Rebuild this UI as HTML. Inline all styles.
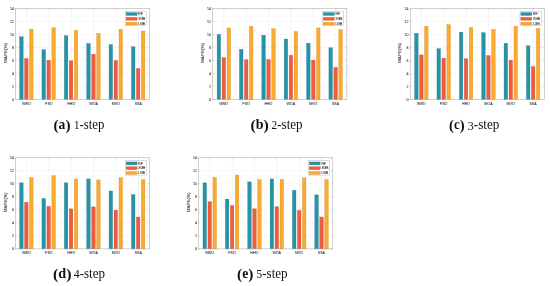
<!DOCTYPE html>
<html><head><meta charset="utf-8"><title>MAPE bar charts</title>
<style>
html,body{margin:0;padding:0;background:#fff;}
body{width:550px;height:286px;overflow:hidden;}
svg{display:block;}
.t{font-family:"Liberation Sans",sans-serif;font-size:3.6px;fill:#333;stroke:#333;stroke-width:0.06px;}
.lg{font-family:"Liberation Sans",sans-serif;font-size:3.3px;fill:#222;stroke:#222;stroke-width:0.06px;}
.cap{font-family:"Liberation Serif",serif;font-size:13.6px;fill:#111;}
.b{font-weight:bold;}
</style></head><body>
<svg width="550" height="286" viewBox="0 0 550 286">
<rect width="550" height="286" fill="#fff"/>

<g id="chart-a">
<line x1="26.68" y1="8.40" x2="26.68" y2="99.50" stroke="#e9e9e9" stroke-width="0.4"/>
<line x1="49.05" y1="8.40" x2="49.05" y2="99.50" stroke="#e9e9e9" stroke-width="0.4"/>
<line x1="71.42" y1="8.40" x2="71.42" y2="99.50" stroke="#e9e9e9" stroke-width="0.4"/>
<line x1="93.78" y1="8.40" x2="93.78" y2="99.50" stroke="#e9e9e9" stroke-width="0.4"/>
<line x1="116.15" y1="8.40" x2="116.15" y2="99.50" stroke="#e9e9e9" stroke-width="0.4"/>
<line x1="138.52" y1="8.40" x2="138.52" y2="99.50" stroke="#e9e9e9" stroke-width="0.4"/>
<line x1="15.50" y1="86.49" x2="149.70" y2="86.49" stroke="#e9e9e9" stroke-width="0.4"/>
<line x1="15.50" y1="73.47" x2="149.70" y2="73.47" stroke="#e9e9e9" stroke-width="0.4"/>
<line x1="15.50" y1="60.46" x2="149.70" y2="60.46" stroke="#e9e9e9" stroke-width="0.4"/>
<line x1="15.50" y1="47.44" x2="149.70" y2="47.44" stroke="#e9e9e9" stroke-width="0.4"/>
<line x1="15.50" y1="34.43" x2="149.70" y2="34.43" stroke="#e9e9e9" stroke-width="0.4"/>
<line x1="15.50" y1="21.41" x2="149.70" y2="21.41" stroke="#e9e9e9" stroke-width="0.4"/>
<rect x="19.59" y="36.71" width="3.55" height="62.79" fill="#2594a6" stroke="#1f7483" stroke-width="0.3"/>
<rect x="24.56" y="58.51" width="3.55" height="40.99" fill="#f05c3c" stroke="#bd4a32" stroke-width="0.3"/>
<rect x="29.53" y="29.22" width="3.55" height="70.28" fill="#fbaa2e" stroke="#cc8823" stroke-width="0.3"/>
<rect x="41.95" y="49.72" width="3.55" height="49.78" fill="#2594a6" stroke="#1f7483" stroke-width="0.3"/>
<rect x="46.92" y="60.33" width="3.55" height="39.17" fill="#f05c3c" stroke="#bd4a32" stroke-width="0.3"/>
<rect x="51.90" y="27.79" width="3.55" height="71.71" fill="#fbaa2e" stroke="#cc8823" stroke-width="0.3"/>
<rect x="64.32" y="35.73" width="3.55" height="63.77" fill="#2594a6" stroke="#1f7483" stroke-width="0.3"/>
<rect x="69.29" y="60.78" width="3.55" height="38.72" fill="#f05c3c" stroke="#bd4a32" stroke-width="0.3"/>
<rect x="74.26" y="30.20" width="3.55" height="69.30" fill="#fbaa2e" stroke="#cc8823" stroke-width="0.3"/>
<rect x="86.69" y="43.54" width="3.55" height="55.96" fill="#2594a6" stroke="#1f7483" stroke-width="0.3"/>
<rect x="91.66" y="54.28" width="3.55" height="45.22" fill="#f05c3c" stroke="#bd4a32" stroke-width="0.3"/>
<rect x="96.63" y="33.45" width="3.55" height="66.05" fill="#fbaa2e" stroke="#cc8823" stroke-width="0.3"/>
<rect x="109.05" y="44.51" width="3.55" height="54.99" fill="#2594a6" stroke="#1f7483" stroke-width="0.3"/>
<rect x="114.02" y="60.46" width="3.55" height="39.04" fill="#f05c3c" stroke="#bd4a32" stroke-width="0.3"/>
<rect x="119.00" y="29.22" width="3.55" height="70.28" fill="#fbaa2e" stroke="#cc8823" stroke-width="0.3"/>
<rect x="131.42" y="46.79" width="3.55" height="52.71" fill="#2594a6" stroke="#1f7483" stroke-width="0.3"/>
<rect x="136.39" y="68.59" width="3.55" height="30.91" fill="#f05c3c" stroke="#bd4a32" stroke-width="0.3"/>
<rect x="141.36" y="31.04" width="3.55" height="68.46" fill="#fbaa2e" stroke="#cc8823" stroke-width="0.3"/>
<rect x="15.50" y="8.40" width="134.20" height="91.10" fill="none" stroke="#a0a0a0" stroke-width="0.5"/>
<line x1="26.68" y1="99.50" x2="26.68" y2="98.30" stroke="#a0a0a0" stroke-width="0.4"/>
<line x1="26.68" y1="8.40" x2="26.68" y2="9.60" stroke="#a0a0a0" stroke-width="0.4"/>
<text class="t" x="26.48" y="104.70" text-anchor="middle">GWO</text>
<line x1="49.05" y1="99.50" x2="49.05" y2="98.30" stroke="#a0a0a0" stroke-width="0.4"/>
<line x1="49.05" y1="8.40" x2="49.05" y2="9.60" stroke="#a0a0a0" stroke-width="0.4"/>
<text class="t" x="48.85" y="104.70" text-anchor="middle">PSO</text>
<line x1="71.42" y1="99.50" x2="71.42" y2="98.30" stroke="#a0a0a0" stroke-width="0.4"/>
<line x1="71.42" y1="8.40" x2="71.42" y2="9.60" stroke="#a0a0a0" stroke-width="0.4"/>
<text class="t" x="71.22" y="104.70" text-anchor="middle">HHO</text>
<line x1="93.78" y1="99.50" x2="93.78" y2="98.30" stroke="#a0a0a0" stroke-width="0.4"/>
<line x1="93.78" y1="8.40" x2="93.78" y2="9.60" stroke="#a0a0a0" stroke-width="0.4"/>
<text class="t" x="93.58" y="104.70" text-anchor="middle">WOA</text>
<line x1="116.15" y1="99.50" x2="116.15" y2="98.30" stroke="#a0a0a0" stroke-width="0.4"/>
<line x1="116.15" y1="8.40" x2="116.15" y2="9.60" stroke="#a0a0a0" stroke-width="0.4"/>
<text class="t" x="115.95" y="104.70" text-anchor="middle">MVO</text>
<line x1="138.52" y1="99.50" x2="138.52" y2="98.30" stroke="#a0a0a0" stroke-width="0.4"/>
<line x1="138.52" y1="8.40" x2="138.52" y2="9.60" stroke="#a0a0a0" stroke-width="0.4"/>
<text class="t" x="138.32" y="104.70" text-anchor="middle">SSA</text>
<line x1="15.50" y1="99.50" x2="16.70" y2="99.50" stroke="#a0a0a0" stroke-width="0.4"/>
<line x1="149.70" y1="99.50" x2="148.50" y2="99.50" stroke="#a0a0a0" stroke-width="0.4"/>
<text class="t" x="13.90" y="100.80" text-anchor="end">0</text>
<line x1="15.50" y1="86.49" x2="16.70" y2="86.49" stroke="#a0a0a0" stroke-width="0.4"/>
<line x1="149.70" y1="86.49" x2="148.50" y2="86.49" stroke="#a0a0a0" stroke-width="0.4"/>
<text class="t" x="13.90" y="87.79" text-anchor="end">2</text>
<line x1="15.50" y1="73.47" x2="16.70" y2="73.47" stroke="#a0a0a0" stroke-width="0.4"/>
<line x1="149.70" y1="73.47" x2="148.50" y2="73.47" stroke="#a0a0a0" stroke-width="0.4"/>
<text class="t" x="13.90" y="74.77" text-anchor="end">4</text>
<line x1="15.50" y1="60.46" x2="16.70" y2="60.46" stroke="#a0a0a0" stroke-width="0.4"/>
<line x1="149.70" y1="60.46" x2="148.50" y2="60.46" stroke="#a0a0a0" stroke-width="0.4"/>
<text class="t" x="13.90" y="61.76" text-anchor="end">6</text>
<line x1="15.50" y1="47.44" x2="16.70" y2="47.44" stroke="#a0a0a0" stroke-width="0.4"/>
<line x1="149.70" y1="47.44" x2="148.50" y2="47.44" stroke="#a0a0a0" stroke-width="0.4"/>
<text class="t" x="13.90" y="48.74" text-anchor="end">8</text>
<line x1="15.50" y1="34.43" x2="16.70" y2="34.43" stroke="#a0a0a0" stroke-width="0.4"/>
<line x1="149.70" y1="34.43" x2="148.50" y2="34.43" stroke="#a0a0a0" stroke-width="0.4"/>
<text class="t" x="13.90" y="35.73" text-anchor="end">10</text>
<line x1="15.50" y1="21.41" x2="16.70" y2="21.41" stroke="#a0a0a0" stroke-width="0.4"/>
<line x1="149.70" y1="21.41" x2="148.50" y2="21.41" stroke="#a0a0a0" stroke-width="0.4"/>
<text class="t" x="13.90" y="22.71" text-anchor="end">12</text>
<line x1="15.50" y1="8.40" x2="16.70" y2="8.40" stroke="#a0a0a0" stroke-width="0.4"/>
<line x1="149.70" y1="8.40" x2="148.50" y2="8.40" stroke="#a0a0a0" stroke-width="0.4"/>
<text class="t" x="13.90" y="9.70" text-anchor="end">14</text>
<text class="t" transform="translate(6.65,52.95) rotate(-90)" text-anchor="middle" textLength="20" lengthAdjust="spacingAndGlyphs">MAPE(%)</text>
<rect x="125.30" y="11.15" width="21.2" height="14.5" fill="#fff" stroke="#a5a5a5" stroke-width="0.4"/>
<rect x="126.20" y="12.55" width="10.9" height="2.9" fill="#2594a6" stroke="#1f7483" stroke-width="0.3"/>
<text class="lg" x="138.30" y="15.20">RF</text>
<rect x="126.20" y="17.35" width="10.9" height="2.9" fill="#f05c3c" stroke="#bd4a32" stroke-width="0.3"/>
<text class="lg" x="138.30" y="20.00">XGB</text>
<rect x="126.20" y="22.15" width="10.9" height="2.9" fill="#fbaa2e" stroke="#cc8823" stroke-width="0.3"/>
<text class="lg" x="138.30" y="24.80">LGB</text>
<text class="cap b" x="53.50" y="129.40" textLength="17.00" lengthAdjust="spacingAndGlyphs"><tspan font-size="15.4" dy="1">(</tspan><tspan dy="-1">a</tspan><tspan font-size="15.4" dy="1">)</tspan></text>
<text class="cap" x="74.00" y="129.40" textLength="30.40" lengthAdjust="spacingAndGlyphs"><tspan font-size="11.7" dy="0">1</tspan><tspan dy="0">-step</tspan></text>
</g>
<g id="chart-b">
<line x1="223.88" y1="8.40" x2="223.88" y2="99.50" stroke="#e9e9e9" stroke-width="0.4"/>
<line x1="246.25" y1="8.40" x2="246.25" y2="99.50" stroke="#e9e9e9" stroke-width="0.4"/>
<line x1="268.62" y1="8.40" x2="268.62" y2="99.50" stroke="#e9e9e9" stroke-width="0.4"/>
<line x1="290.98" y1="8.40" x2="290.98" y2="99.50" stroke="#e9e9e9" stroke-width="0.4"/>
<line x1="313.35" y1="8.40" x2="313.35" y2="99.50" stroke="#e9e9e9" stroke-width="0.4"/>
<line x1="335.72" y1="8.40" x2="335.72" y2="99.50" stroke="#e9e9e9" stroke-width="0.4"/>
<line x1="212.70" y1="86.49" x2="346.90" y2="86.49" stroke="#e9e9e9" stroke-width="0.4"/>
<line x1="212.70" y1="73.47" x2="346.90" y2="73.47" stroke="#e9e9e9" stroke-width="0.4"/>
<line x1="212.70" y1="60.46" x2="346.90" y2="60.46" stroke="#e9e9e9" stroke-width="0.4"/>
<line x1="212.70" y1="47.44" x2="346.90" y2="47.44" stroke="#e9e9e9" stroke-width="0.4"/>
<line x1="212.70" y1="34.43" x2="346.90" y2="34.43" stroke="#e9e9e9" stroke-width="0.4"/>
<line x1="212.70" y1="21.41" x2="346.90" y2="21.41" stroke="#e9e9e9" stroke-width="0.4"/>
<rect x="217.09" y="34.43" width="3.55" height="65.07" fill="#2594a6" stroke="#1f7483" stroke-width="0.3"/>
<rect x="222.06" y="57.53" width="3.55" height="41.97" fill="#f05c3c" stroke="#bd4a32" stroke-width="0.3"/>
<rect x="227.03" y="27.92" width="3.55" height="71.58" fill="#fbaa2e" stroke="#cc8823" stroke-width="0.3"/>
<rect x="239.45" y="49.39" width="3.55" height="50.11" fill="#2594a6" stroke="#1f7483" stroke-width="0.3"/>
<rect x="244.42" y="59.81" width="3.55" height="39.69" fill="#f05c3c" stroke="#bd4a32" stroke-width="0.3"/>
<rect x="249.40" y="26.29" width="3.55" height="73.21" fill="#fbaa2e" stroke="#cc8823" stroke-width="0.3"/>
<rect x="261.82" y="35.27" width="3.55" height="64.23" fill="#2594a6" stroke="#1f7483" stroke-width="0.3"/>
<rect x="266.79" y="59.48" width="3.55" height="40.02" fill="#f05c3c" stroke="#bd4a32" stroke-width="0.3"/>
<rect x="271.76" y="28.77" width="3.55" height="70.73" fill="#fbaa2e" stroke="#cc8823" stroke-width="0.3"/>
<rect x="284.19" y="38.98" width="3.55" height="60.52" fill="#2594a6" stroke="#1f7483" stroke-width="0.3"/>
<rect x="289.16" y="55.25" width="3.55" height="44.25" fill="#f05c3c" stroke="#bd4a32" stroke-width="0.3"/>
<rect x="294.13" y="31.50" width="3.55" height="68.00" fill="#fbaa2e" stroke="#cc8823" stroke-width="0.3"/>
<rect x="306.55" y="43.21" width="3.55" height="56.29" fill="#2594a6" stroke="#1f7483" stroke-width="0.3"/>
<rect x="311.52" y="60.13" width="3.55" height="39.37" fill="#f05c3c" stroke="#bd4a32" stroke-width="0.3"/>
<rect x="316.50" y="27.92" width="3.55" height="71.58" fill="#fbaa2e" stroke="#cc8823" stroke-width="0.3"/>
<rect x="328.92" y="47.77" width="3.55" height="51.73" fill="#2594a6" stroke="#1f7483" stroke-width="0.3"/>
<rect x="333.89" y="67.29" width="3.55" height="32.21" fill="#f05c3c" stroke="#bd4a32" stroke-width="0.3"/>
<rect x="338.86" y="29.55" width="3.55" height="69.95" fill="#fbaa2e" stroke="#cc8823" stroke-width="0.3"/>
<rect x="212.70" y="8.40" width="134.20" height="91.10" fill="none" stroke="#a0a0a0" stroke-width="0.5"/>
<line x1="223.88" y1="99.50" x2="223.88" y2="98.30" stroke="#a0a0a0" stroke-width="0.4"/>
<line x1="223.88" y1="8.40" x2="223.88" y2="9.60" stroke="#a0a0a0" stroke-width="0.4"/>
<text class="t" x="223.68" y="104.70" text-anchor="middle">GWO</text>
<line x1="246.25" y1="99.50" x2="246.25" y2="98.30" stroke="#a0a0a0" stroke-width="0.4"/>
<line x1="246.25" y1="8.40" x2="246.25" y2="9.60" stroke="#a0a0a0" stroke-width="0.4"/>
<text class="t" x="246.05" y="104.70" text-anchor="middle">PSO</text>
<line x1="268.62" y1="99.50" x2="268.62" y2="98.30" stroke="#a0a0a0" stroke-width="0.4"/>
<line x1="268.62" y1="8.40" x2="268.62" y2="9.60" stroke="#a0a0a0" stroke-width="0.4"/>
<text class="t" x="268.42" y="104.70" text-anchor="middle">HHO</text>
<line x1="290.98" y1="99.50" x2="290.98" y2="98.30" stroke="#a0a0a0" stroke-width="0.4"/>
<line x1="290.98" y1="8.40" x2="290.98" y2="9.60" stroke="#a0a0a0" stroke-width="0.4"/>
<text class="t" x="290.78" y="104.70" text-anchor="middle">WOA</text>
<line x1="313.35" y1="99.50" x2="313.35" y2="98.30" stroke="#a0a0a0" stroke-width="0.4"/>
<line x1="313.35" y1="8.40" x2="313.35" y2="9.60" stroke="#a0a0a0" stroke-width="0.4"/>
<text class="t" x="313.15" y="104.70" text-anchor="middle">MVO</text>
<line x1="335.72" y1="99.50" x2="335.72" y2="98.30" stroke="#a0a0a0" stroke-width="0.4"/>
<line x1="335.72" y1="8.40" x2="335.72" y2="9.60" stroke="#a0a0a0" stroke-width="0.4"/>
<text class="t" x="335.52" y="104.70" text-anchor="middle">SSA</text>
<line x1="212.70" y1="99.50" x2="213.90" y2="99.50" stroke="#a0a0a0" stroke-width="0.4"/>
<line x1="346.90" y1="99.50" x2="345.70" y2="99.50" stroke="#a0a0a0" stroke-width="0.4"/>
<text class="t" x="211.10" y="100.80" text-anchor="end">0</text>
<line x1="212.70" y1="86.49" x2="213.90" y2="86.49" stroke="#a0a0a0" stroke-width="0.4"/>
<line x1="346.90" y1="86.49" x2="345.70" y2="86.49" stroke="#a0a0a0" stroke-width="0.4"/>
<text class="t" x="211.10" y="87.79" text-anchor="end">2</text>
<line x1="212.70" y1="73.47" x2="213.90" y2="73.47" stroke="#a0a0a0" stroke-width="0.4"/>
<line x1="346.90" y1="73.47" x2="345.70" y2="73.47" stroke="#a0a0a0" stroke-width="0.4"/>
<text class="t" x="211.10" y="74.77" text-anchor="end">4</text>
<line x1="212.70" y1="60.46" x2="213.90" y2="60.46" stroke="#a0a0a0" stroke-width="0.4"/>
<line x1="346.90" y1="60.46" x2="345.70" y2="60.46" stroke="#a0a0a0" stroke-width="0.4"/>
<text class="t" x="211.10" y="61.76" text-anchor="end">6</text>
<line x1="212.70" y1="47.44" x2="213.90" y2="47.44" stroke="#a0a0a0" stroke-width="0.4"/>
<line x1="346.90" y1="47.44" x2="345.70" y2="47.44" stroke="#a0a0a0" stroke-width="0.4"/>
<text class="t" x="211.10" y="48.74" text-anchor="end">8</text>
<line x1="212.70" y1="34.43" x2="213.90" y2="34.43" stroke="#a0a0a0" stroke-width="0.4"/>
<line x1="346.90" y1="34.43" x2="345.70" y2="34.43" stroke="#a0a0a0" stroke-width="0.4"/>
<text class="t" x="211.10" y="35.73" text-anchor="end">10</text>
<line x1="212.70" y1="21.41" x2="213.90" y2="21.41" stroke="#a0a0a0" stroke-width="0.4"/>
<line x1="346.90" y1="21.41" x2="345.70" y2="21.41" stroke="#a0a0a0" stroke-width="0.4"/>
<text class="t" x="211.10" y="22.71" text-anchor="end">12</text>
<line x1="212.70" y1="8.40" x2="213.90" y2="8.40" stroke="#a0a0a0" stroke-width="0.4"/>
<line x1="346.90" y1="8.40" x2="345.70" y2="8.40" stroke="#a0a0a0" stroke-width="0.4"/>
<text class="t" x="211.10" y="9.70" text-anchor="end">14</text>
<text class="t" transform="translate(203.85,52.95) rotate(-90)" text-anchor="middle" textLength="20" lengthAdjust="spacingAndGlyphs">MAPE(%)</text>
<rect x="322.50" y="11.15" width="21.2" height="14.5" fill="#fff" stroke="#a5a5a5" stroke-width="0.4"/>
<rect x="323.40" y="12.55" width="10.9" height="2.9" fill="#2594a6" stroke="#1f7483" stroke-width="0.3"/>
<text class="lg" x="335.50" y="15.20">RF</text>
<rect x="323.40" y="17.35" width="10.9" height="2.9" fill="#f05c3c" stroke="#bd4a32" stroke-width="0.3"/>
<text class="lg" x="335.50" y="20.00">XGB</text>
<rect x="323.40" y="22.15" width="10.9" height="2.9" fill="#fbaa2e" stroke="#cc8823" stroke-width="0.3"/>
<text class="lg" x="335.50" y="24.80">LGB</text>
<text class="cap b" x="250.40" y="129.40" textLength="18.30" lengthAdjust="spacingAndGlyphs"><tspan font-size="15.4" dy="1">(</tspan><tspan dy="-1">b</tspan><tspan font-size="15.4" dy="1">)</tspan></text>
<text class="cap" x="271.60" y="129.40" textLength="31.00" lengthAdjust="spacingAndGlyphs"><tspan font-size="11.7" dy="0">2</tspan><tspan dy="0">-step</tspan></text>
</g>
<g id="chart-c">
<line x1="421.38" y1="8.40" x2="421.38" y2="99.50" stroke="#e9e9e9" stroke-width="0.4"/>
<line x1="443.75" y1="8.40" x2="443.75" y2="99.50" stroke="#e9e9e9" stroke-width="0.4"/>
<line x1="466.12" y1="8.40" x2="466.12" y2="99.50" stroke="#e9e9e9" stroke-width="0.4"/>
<line x1="488.48" y1="8.40" x2="488.48" y2="99.50" stroke="#e9e9e9" stroke-width="0.4"/>
<line x1="510.85" y1="8.40" x2="510.85" y2="99.50" stroke="#e9e9e9" stroke-width="0.4"/>
<line x1="533.22" y1="8.40" x2="533.22" y2="99.50" stroke="#e9e9e9" stroke-width="0.4"/>
<line x1="410.20" y1="86.49" x2="544.40" y2="86.49" stroke="#e9e9e9" stroke-width="0.4"/>
<line x1="410.20" y1="73.47" x2="544.40" y2="73.47" stroke="#e9e9e9" stroke-width="0.4"/>
<line x1="410.20" y1="60.46" x2="544.40" y2="60.46" stroke="#e9e9e9" stroke-width="0.4"/>
<line x1="410.20" y1="47.44" x2="544.40" y2="47.44" stroke="#e9e9e9" stroke-width="0.4"/>
<line x1="410.20" y1="34.43" x2="544.40" y2="34.43" stroke="#e9e9e9" stroke-width="0.4"/>
<line x1="410.20" y1="21.41" x2="544.40" y2="21.41" stroke="#e9e9e9" stroke-width="0.4"/>
<rect x="414.59" y="33.32" width="3.55" height="66.18" fill="#2594a6" stroke="#1f7483" stroke-width="0.3"/>
<rect x="419.56" y="54.93" width="3.55" height="44.57" fill="#f05c3c" stroke="#bd4a32" stroke-width="0.3"/>
<rect x="424.53" y="26.29" width="3.55" height="73.21" fill="#fbaa2e" stroke="#cc8823" stroke-width="0.3"/>
<rect x="436.95" y="48.74" width="3.55" height="50.76" fill="#2594a6" stroke="#1f7483" stroke-width="0.3"/>
<rect x="441.93" y="58.18" width="3.55" height="41.32" fill="#f05c3c" stroke="#bd4a32" stroke-width="0.3"/>
<rect x="446.90" y="24.67" width="3.55" height="74.83" fill="#fbaa2e" stroke="#cc8823" stroke-width="0.3"/>
<rect x="459.32" y="32.15" width="3.55" height="67.35" fill="#2594a6" stroke="#1f7483" stroke-width="0.3"/>
<rect x="464.29" y="58.83" width="3.55" height="40.67" fill="#f05c3c" stroke="#bd4a32" stroke-width="0.3"/>
<rect x="469.26" y="27.60" width="3.55" height="71.90" fill="#fbaa2e" stroke="#cc8823" stroke-width="0.3"/>
<rect x="481.69" y="32.67" width="3.55" height="66.83" fill="#2594a6" stroke="#1f7483" stroke-width="0.3"/>
<rect x="486.66" y="55.58" width="3.55" height="43.92" fill="#f05c3c" stroke="#bd4a32" stroke-width="0.3"/>
<rect x="491.63" y="29.55" width="3.55" height="69.95" fill="#fbaa2e" stroke="#cc8823" stroke-width="0.3"/>
<rect x="504.05" y="43.21" width="3.55" height="56.29" fill="#2594a6" stroke="#1f7483" stroke-width="0.3"/>
<rect x="509.02" y="60.13" width="3.55" height="39.37" fill="#f05c3c" stroke="#bd4a32" stroke-width="0.3"/>
<rect x="514.00" y="26.29" width="3.55" height="73.21" fill="#fbaa2e" stroke="#cc8823" stroke-width="0.3"/>
<rect x="526.42" y="45.82" width="3.55" height="53.68" fill="#2594a6" stroke="#1f7483" stroke-width="0.3"/>
<rect x="531.39" y="66.64" width="3.55" height="32.86" fill="#f05c3c" stroke="#bd4a32" stroke-width="0.3"/>
<rect x="536.36" y="28.57" width="3.55" height="70.93" fill="#fbaa2e" stroke="#cc8823" stroke-width="0.3"/>
<rect x="410.20" y="8.40" width="134.20" height="91.10" fill="none" stroke="#a0a0a0" stroke-width="0.5"/>
<line x1="421.38" y1="99.50" x2="421.38" y2="98.30" stroke="#a0a0a0" stroke-width="0.4"/>
<line x1="421.38" y1="8.40" x2="421.38" y2="9.60" stroke="#a0a0a0" stroke-width="0.4"/>
<text class="t" x="421.18" y="104.70" text-anchor="middle">GWO</text>
<line x1="443.75" y1="99.50" x2="443.75" y2="98.30" stroke="#a0a0a0" stroke-width="0.4"/>
<line x1="443.75" y1="8.40" x2="443.75" y2="9.60" stroke="#a0a0a0" stroke-width="0.4"/>
<text class="t" x="443.55" y="104.70" text-anchor="middle">PSO</text>
<line x1="466.12" y1="99.50" x2="466.12" y2="98.30" stroke="#a0a0a0" stroke-width="0.4"/>
<line x1="466.12" y1="8.40" x2="466.12" y2="9.60" stroke="#a0a0a0" stroke-width="0.4"/>
<text class="t" x="465.92" y="104.70" text-anchor="middle">HHO</text>
<line x1="488.48" y1="99.50" x2="488.48" y2="98.30" stroke="#a0a0a0" stroke-width="0.4"/>
<line x1="488.48" y1="8.40" x2="488.48" y2="9.60" stroke="#a0a0a0" stroke-width="0.4"/>
<text class="t" x="488.28" y="104.70" text-anchor="middle">WOA</text>
<line x1="510.85" y1="99.50" x2="510.85" y2="98.30" stroke="#a0a0a0" stroke-width="0.4"/>
<line x1="510.85" y1="8.40" x2="510.85" y2="9.60" stroke="#a0a0a0" stroke-width="0.4"/>
<text class="t" x="510.65" y="104.70" text-anchor="middle">MVO</text>
<line x1="533.22" y1="99.50" x2="533.22" y2="98.30" stroke="#a0a0a0" stroke-width="0.4"/>
<line x1="533.22" y1="8.40" x2="533.22" y2="9.60" stroke="#a0a0a0" stroke-width="0.4"/>
<text class="t" x="533.02" y="104.70" text-anchor="middle">SSA</text>
<line x1="410.20" y1="99.50" x2="411.40" y2="99.50" stroke="#a0a0a0" stroke-width="0.4"/>
<line x1="544.40" y1="99.50" x2="543.20" y2="99.50" stroke="#a0a0a0" stroke-width="0.4"/>
<text class="t" x="408.60" y="100.80" text-anchor="end">0</text>
<line x1="410.20" y1="86.49" x2="411.40" y2="86.49" stroke="#a0a0a0" stroke-width="0.4"/>
<line x1="544.40" y1="86.49" x2="543.20" y2="86.49" stroke="#a0a0a0" stroke-width="0.4"/>
<text class="t" x="408.60" y="87.79" text-anchor="end">2</text>
<line x1="410.20" y1="73.47" x2="411.40" y2="73.47" stroke="#a0a0a0" stroke-width="0.4"/>
<line x1="544.40" y1="73.47" x2="543.20" y2="73.47" stroke="#a0a0a0" stroke-width="0.4"/>
<text class="t" x="408.60" y="74.77" text-anchor="end">4</text>
<line x1="410.20" y1="60.46" x2="411.40" y2="60.46" stroke="#a0a0a0" stroke-width="0.4"/>
<line x1="544.40" y1="60.46" x2="543.20" y2="60.46" stroke="#a0a0a0" stroke-width="0.4"/>
<text class="t" x="408.60" y="61.76" text-anchor="end">6</text>
<line x1="410.20" y1="47.44" x2="411.40" y2="47.44" stroke="#a0a0a0" stroke-width="0.4"/>
<line x1="544.40" y1="47.44" x2="543.20" y2="47.44" stroke="#a0a0a0" stroke-width="0.4"/>
<text class="t" x="408.60" y="48.74" text-anchor="end">8</text>
<line x1="410.20" y1="34.43" x2="411.40" y2="34.43" stroke="#a0a0a0" stroke-width="0.4"/>
<line x1="544.40" y1="34.43" x2="543.20" y2="34.43" stroke="#a0a0a0" stroke-width="0.4"/>
<text class="t" x="408.60" y="35.73" text-anchor="end">10</text>
<line x1="410.20" y1="21.41" x2="411.40" y2="21.41" stroke="#a0a0a0" stroke-width="0.4"/>
<line x1="544.40" y1="21.41" x2="543.20" y2="21.41" stroke="#a0a0a0" stroke-width="0.4"/>
<text class="t" x="408.60" y="22.71" text-anchor="end">12</text>
<line x1="410.20" y1="8.40" x2="411.40" y2="8.40" stroke="#a0a0a0" stroke-width="0.4"/>
<line x1="544.40" y1="8.40" x2="543.20" y2="8.40" stroke="#a0a0a0" stroke-width="0.4"/>
<text class="t" x="408.60" y="9.70" text-anchor="end">14</text>
<text class="t" transform="translate(401.35,52.95) rotate(-90)" text-anchor="middle" textLength="20" lengthAdjust="spacingAndGlyphs">MAPE(%)</text>
<rect x="520.00" y="11.15" width="21.2" height="14.5" fill="#fff" stroke="#a5a5a5" stroke-width="0.4"/>
<rect x="520.90" y="12.55" width="10.9" height="2.9" fill="#2594a6" stroke="#1f7483" stroke-width="0.3"/>
<text class="lg" x="533.00" y="15.20">RF</text>
<rect x="520.90" y="17.35" width="10.9" height="2.9" fill="#f05c3c" stroke="#bd4a32" stroke-width="0.3"/>
<text class="lg" x="533.00" y="20.00">XGB</text>
<rect x="520.90" y="22.15" width="10.9" height="2.9" fill="#fbaa2e" stroke="#cc8823" stroke-width="0.3"/>
<text class="lg" x="533.00" y="24.80">LGB</text>
<text class="cap b" x="449.10" y="129.40" textLength="15.50" lengthAdjust="spacingAndGlyphs"><tspan font-size="15.4" dy="1">(</tspan><tspan dy="-1">c</tspan><tspan font-size="15.4" dy="1">)</tspan></text>
<text class="cap" x="467.80" y="129.40" textLength="31.60" lengthAdjust="spacingAndGlyphs"><tspan font-size="12.4" dy="0.45">3</tspan><tspan dy="-0.45">-step</tspan></text>
</g>
<g id="chart-d">
<line x1="26.68" y1="157.80" x2="26.68" y2="248.90" stroke="#e9e9e9" stroke-width="0.4"/>
<line x1="49.05" y1="157.80" x2="49.05" y2="248.90" stroke="#e9e9e9" stroke-width="0.4"/>
<line x1="71.42" y1="157.80" x2="71.42" y2="248.90" stroke="#e9e9e9" stroke-width="0.4"/>
<line x1="93.78" y1="157.80" x2="93.78" y2="248.90" stroke="#e9e9e9" stroke-width="0.4"/>
<line x1="116.15" y1="157.80" x2="116.15" y2="248.90" stroke="#e9e9e9" stroke-width="0.4"/>
<line x1="138.52" y1="157.80" x2="138.52" y2="248.90" stroke="#e9e9e9" stroke-width="0.4"/>
<line x1="15.50" y1="235.89" x2="149.70" y2="235.89" stroke="#e9e9e9" stroke-width="0.4"/>
<line x1="15.50" y1="222.87" x2="149.70" y2="222.87" stroke="#e9e9e9" stroke-width="0.4"/>
<line x1="15.50" y1="209.86" x2="149.70" y2="209.86" stroke="#e9e9e9" stroke-width="0.4"/>
<line x1="15.50" y1="196.84" x2="149.70" y2="196.84" stroke="#e9e9e9" stroke-width="0.4"/>
<line x1="15.50" y1="183.83" x2="149.70" y2="183.83" stroke="#e9e9e9" stroke-width="0.4"/>
<line x1="15.50" y1="170.81" x2="149.70" y2="170.81" stroke="#e9e9e9" stroke-width="0.4"/>
<rect x="19.59" y="182.85" width="3.55" height="66.05" fill="#2594a6" stroke="#1f7483" stroke-width="0.3"/>
<rect x="24.56" y="202.37" width="3.55" height="46.53" fill="#f05c3c" stroke="#bd4a32" stroke-width="0.3"/>
<rect x="29.53" y="177.65" width="3.55" height="71.25" fill="#fbaa2e" stroke="#cc8823" stroke-width="0.3"/>
<rect x="41.95" y="198.47" width="3.55" height="50.43" fill="#2594a6" stroke="#1f7483" stroke-width="0.3"/>
<rect x="46.92" y="206.28" width="3.55" height="42.62" fill="#f05c3c" stroke="#bd4a32" stroke-width="0.3"/>
<rect x="51.90" y="175.69" width="3.55" height="73.21" fill="#fbaa2e" stroke="#cc8823" stroke-width="0.3"/>
<rect x="64.32" y="182.85" width="3.55" height="66.05" fill="#2594a6" stroke="#1f7483" stroke-width="0.3"/>
<rect x="69.29" y="208.88" width="3.55" height="40.02" fill="#f05c3c" stroke="#bd4a32" stroke-width="0.3"/>
<rect x="74.26" y="178.95" width="3.55" height="69.95" fill="#fbaa2e" stroke="#cc8823" stroke-width="0.3"/>
<rect x="86.69" y="178.95" width="3.55" height="69.95" fill="#2594a6" stroke="#1f7483" stroke-width="0.3"/>
<rect x="91.66" y="206.93" width="3.55" height="41.97" fill="#f05c3c" stroke="#bd4a32" stroke-width="0.3"/>
<rect x="96.63" y="179.92" width="3.55" height="68.98" fill="#fbaa2e" stroke="#cc8823" stroke-width="0.3"/>
<rect x="109.05" y="190.99" width="3.55" height="57.91" fill="#2594a6" stroke="#1f7483" stroke-width="0.3"/>
<rect x="114.02" y="210.18" width="3.55" height="38.72" fill="#f05c3c" stroke="#bd4a32" stroke-width="0.3"/>
<rect x="119.00" y="177.65" width="3.55" height="71.25" fill="#fbaa2e" stroke="#cc8823" stroke-width="0.3"/>
<rect x="131.42" y="194.57" width="3.55" height="54.33" fill="#2594a6" stroke="#1f7483" stroke-width="0.3"/>
<rect x="136.39" y="217.02" width="3.55" height="31.89" fill="#f05c3c" stroke="#bd4a32" stroke-width="0.3"/>
<rect x="141.36" y="179.60" width="3.55" height="69.30" fill="#fbaa2e" stroke="#cc8823" stroke-width="0.3"/>
<rect x="15.50" y="157.80" width="134.20" height="91.10" fill="none" stroke="#a0a0a0" stroke-width="0.5"/>
<line x1="26.68" y1="248.90" x2="26.68" y2="247.70" stroke="#a0a0a0" stroke-width="0.4"/>
<line x1="26.68" y1="157.80" x2="26.68" y2="159.00" stroke="#a0a0a0" stroke-width="0.4"/>
<text class="t" x="26.48" y="254.10" text-anchor="middle">GWO</text>
<line x1="49.05" y1="248.90" x2="49.05" y2="247.70" stroke="#a0a0a0" stroke-width="0.4"/>
<line x1="49.05" y1="157.80" x2="49.05" y2="159.00" stroke="#a0a0a0" stroke-width="0.4"/>
<text class="t" x="48.85" y="254.10" text-anchor="middle">PSO</text>
<line x1="71.42" y1="248.90" x2="71.42" y2="247.70" stroke="#a0a0a0" stroke-width="0.4"/>
<line x1="71.42" y1="157.80" x2="71.42" y2="159.00" stroke="#a0a0a0" stroke-width="0.4"/>
<text class="t" x="71.22" y="254.10" text-anchor="middle">HHO</text>
<line x1="93.78" y1="248.90" x2="93.78" y2="247.70" stroke="#a0a0a0" stroke-width="0.4"/>
<line x1="93.78" y1="157.80" x2="93.78" y2="159.00" stroke="#a0a0a0" stroke-width="0.4"/>
<text class="t" x="93.58" y="254.10" text-anchor="middle">WOA</text>
<line x1="116.15" y1="248.90" x2="116.15" y2="247.70" stroke="#a0a0a0" stroke-width="0.4"/>
<line x1="116.15" y1="157.80" x2="116.15" y2="159.00" stroke="#a0a0a0" stroke-width="0.4"/>
<text class="t" x="115.95" y="254.10" text-anchor="middle">MVO</text>
<line x1="138.52" y1="248.90" x2="138.52" y2="247.70" stroke="#a0a0a0" stroke-width="0.4"/>
<line x1="138.52" y1="157.80" x2="138.52" y2="159.00" stroke="#a0a0a0" stroke-width="0.4"/>
<text class="t" x="138.32" y="254.10" text-anchor="middle">SSA</text>
<line x1="15.50" y1="248.90" x2="16.70" y2="248.90" stroke="#a0a0a0" stroke-width="0.4"/>
<line x1="149.70" y1="248.90" x2="148.50" y2="248.90" stroke="#a0a0a0" stroke-width="0.4"/>
<text class="t" x="13.90" y="250.20" text-anchor="end">0</text>
<line x1="15.50" y1="235.89" x2="16.70" y2="235.89" stroke="#a0a0a0" stroke-width="0.4"/>
<line x1="149.70" y1="235.89" x2="148.50" y2="235.89" stroke="#a0a0a0" stroke-width="0.4"/>
<text class="t" x="13.90" y="237.19" text-anchor="end">2</text>
<line x1="15.50" y1="222.87" x2="16.70" y2="222.87" stroke="#a0a0a0" stroke-width="0.4"/>
<line x1="149.70" y1="222.87" x2="148.50" y2="222.87" stroke="#a0a0a0" stroke-width="0.4"/>
<text class="t" x="13.90" y="224.17" text-anchor="end">4</text>
<line x1="15.50" y1="209.86" x2="16.70" y2="209.86" stroke="#a0a0a0" stroke-width="0.4"/>
<line x1="149.70" y1="209.86" x2="148.50" y2="209.86" stroke="#a0a0a0" stroke-width="0.4"/>
<text class="t" x="13.90" y="211.16" text-anchor="end">6</text>
<line x1="15.50" y1="196.84" x2="16.70" y2="196.84" stroke="#a0a0a0" stroke-width="0.4"/>
<line x1="149.70" y1="196.84" x2="148.50" y2="196.84" stroke="#a0a0a0" stroke-width="0.4"/>
<text class="t" x="13.90" y="198.14" text-anchor="end">8</text>
<line x1="15.50" y1="183.83" x2="16.70" y2="183.83" stroke="#a0a0a0" stroke-width="0.4"/>
<line x1="149.70" y1="183.83" x2="148.50" y2="183.83" stroke="#a0a0a0" stroke-width="0.4"/>
<text class="t" x="13.90" y="185.13" text-anchor="end">10</text>
<line x1="15.50" y1="170.81" x2="16.70" y2="170.81" stroke="#a0a0a0" stroke-width="0.4"/>
<line x1="149.70" y1="170.81" x2="148.50" y2="170.81" stroke="#a0a0a0" stroke-width="0.4"/>
<text class="t" x="13.90" y="172.11" text-anchor="end">12</text>
<line x1="15.50" y1="157.80" x2="16.70" y2="157.80" stroke="#a0a0a0" stroke-width="0.4"/>
<line x1="149.70" y1="157.80" x2="148.50" y2="157.80" stroke="#a0a0a0" stroke-width="0.4"/>
<text class="t" x="13.90" y="159.10" text-anchor="end">14</text>
<text class="t" transform="translate(6.65,202.35) rotate(-90)" text-anchor="middle" textLength="20" lengthAdjust="spacingAndGlyphs">MAPE(%)</text>
<rect x="125.30" y="160.55" width="21.2" height="14.5" fill="#fff" stroke="#a5a5a5" stroke-width="0.4"/>
<rect x="126.20" y="161.95" width="10.9" height="2.9" fill="#2594a6" stroke="#1f7483" stroke-width="0.3"/>
<text class="lg" x="138.30" y="164.60">RF</text>
<rect x="126.20" y="166.75" width="10.9" height="2.9" fill="#f05c3c" stroke="#bd4a32" stroke-width="0.3"/>
<text class="lg" x="138.30" y="169.40">XGB</text>
<rect x="126.20" y="171.55" width="10.9" height="2.9" fill="#fbaa2e" stroke="#cc8823" stroke-width="0.3"/>
<text class="lg" x="138.30" y="174.20">LGB</text>
<text class="cap b" x="52.90" y="277.50" textLength="18.60" lengthAdjust="spacingAndGlyphs"><tspan font-size="15.4" dy="1">(</tspan><tspan dy="-1">d</tspan><tspan font-size="15.4" dy="1">)</tspan></text>
<text class="cap" x="73.80" y="277.50" textLength="31.20" lengthAdjust="spacingAndGlyphs"><tspan font-size="12.4" dy="0.45">4</tspan><tspan dy="-0.45">-step</tspan></text>
</g>
<g id="chart-e">
<line x1="209.78" y1="157.80" x2="209.78" y2="248.90" stroke="#e9e9e9" stroke-width="0.4"/>
<line x1="232.15" y1="157.80" x2="232.15" y2="248.90" stroke="#e9e9e9" stroke-width="0.4"/>
<line x1="254.52" y1="157.80" x2="254.52" y2="248.90" stroke="#e9e9e9" stroke-width="0.4"/>
<line x1="276.88" y1="157.80" x2="276.88" y2="248.90" stroke="#e9e9e9" stroke-width="0.4"/>
<line x1="299.25" y1="157.80" x2="299.25" y2="248.90" stroke="#e9e9e9" stroke-width="0.4"/>
<line x1="321.62" y1="157.80" x2="321.62" y2="248.90" stroke="#e9e9e9" stroke-width="0.4"/>
<line x1="198.60" y1="235.89" x2="332.80" y2="235.89" stroke="#e9e9e9" stroke-width="0.4"/>
<line x1="198.60" y1="222.87" x2="332.80" y2="222.87" stroke="#e9e9e9" stroke-width="0.4"/>
<line x1="198.60" y1="209.86" x2="332.80" y2="209.86" stroke="#e9e9e9" stroke-width="0.4"/>
<line x1="198.60" y1="196.84" x2="332.80" y2="196.84" stroke="#e9e9e9" stroke-width="0.4"/>
<line x1="198.60" y1="183.83" x2="332.80" y2="183.83" stroke="#e9e9e9" stroke-width="0.4"/>
<line x1="198.60" y1="170.81" x2="332.80" y2="170.81" stroke="#e9e9e9" stroke-width="0.4"/>
<rect x="202.99" y="182.85" width="3.55" height="66.05" fill="#2594a6" stroke="#1f7483" stroke-width="0.3"/>
<rect x="207.96" y="201.72" width="3.55" height="47.18" fill="#f05c3c" stroke="#bd4a32" stroke-width="0.3"/>
<rect x="212.93" y="177.32" width="3.55" height="71.58" fill="#fbaa2e" stroke="#cc8823" stroke-width="0.3"/>
<rect x="225.35" y="199.12" width="3.55" height="49.78" fill="#2594a6" stroke="#1f7483" stroke-width="0.3"/>
<rect x="230.32" y="205.63" width="3.55" height="43.27" fill="#f05c3c" stroke="#bd4a32" stroke-width="0.3"/>
<rect x="235.30" y="175.04" width="3.55" height="73.86" fill="#fbaa2e" stroke="#cc8823" stroke-width="0.3"/>
<rect x="247.72" y="181.88" width="3.55" height="67.02" fill="#2594a6" stroke="#1f7483" stroke-width="0.3"/>
<rect x="252.69" y="208.88" width="3.55" height="40.02" fill="#f05c3c" stroke="#bd4a32" stroke-width="0.3"/>
<rect x="257.66" y="179.73" width="3.55" height="69.17" fill="#fbaa2e" stroke="#cc8823" stroke-width="0.3"/>
<rect x="270.09" y="178.95" width="3.55" height="69.95" fill="#2594a6" stroke="#1f7483" stroke-width="0.3"/>
<rect x="275.06" y="206.80" width="3.55" height="42.10" fill="#f05c3c" stroke="#bd4a32" stroke-width="0.3"/>
<rect x="280.03" y="179.27" width="3.55" height="69.63" fill="#fbaa2e" stroke="#cc8823" stroke-width="0.3"/>
<rect x="292.45" y="190.34" width="3.55" height="58.56" fill="#2594a6" stroke="#1f7483" stroke-width="0.3"/>
<rect x="297.43" y="210.51" width="3.55" height="38.39" fill="#f05c3c" stroke="#bd4a32" stroke-width="0.3"/>
<rect x="302.40" y="177.84" width="3.55" height="71.06" fill="#fbaa2e" stroke="#cc8823" stroke-width="0.3"/>
<rect x="314.82" y="194.89" width="3.55" height="54.01" fill="#2594a6" stroke="#1f7483" stroke-width="0.3"/>
<rect x="319.79" y="217.02" width="3.55" height="31.89" fill="#f05c3c" stroke="#bd4a32" stroke-width="0.3"/>
<rect x="324.76" y="179.60" width="3.55" height="69.30" fill="#fbaa2e" stroke="#cc8823" stroke-width="0.3"/>
<rect x="198.60" y="157.80" width="134.20" height="91.10" fill="none" stroke="#a0a0a0" stroke-width="0.5"/>
<line x1="209.78" y1="248.90" x2="209.78" y2="247.70" stroke="#a0a0a0" stroke-width="0.4"/>
<line x1="209.78" y1="157.80" x2="209.78" y2="159.00" stroke="#a0a0a0" stroke-width="0.4"/>
<text class="t" x="209.58" y="254.10" text-anchor="middle">GWO</text>
<line x1="232.15" y1="248.90" x2="232.15" y2="247.70" stroke="#a0a0a0" stroke-width="0.4"/>
<line x1="232.15" y1="157.80" x2="232.15" y2="159.00" stroke="#a0a0a0" stroke-width="0.4"/>
<text class="t" x="231.95" y="254.10" text-anchor="middle">PSO</text>
<line x1="254.52" y1="248.90" x2="254.52" y2="247.70" stroke="#a0a0a0" stroke-width="0.4"/>
<line x1="254.52" y1="157.80" x2="254.52" y2="159.00" stroke="#a0a0a0" stroke-width="0.4"/>
<text class="t" x="254.32" y="254.10" text-anchor="middle">HHO</text>
<line x1="276.88" y1="248.90" x2="276.88" y2="247.70" stroke="#a0a0a0" stroke-width="0.4"/>
<line x1="276.88" y1="157.80" x2="276.88" y2="159.00" stroke="#a0a0a0" stroke-width="0.4"/>
<text class="t" x="276.68" y="254.10" text-anchor="middle">WOA</text>
<line x1="299.25" y1="248.90" x2="299.25" y2="247.70" stroke="#a0a0a0" stroke-width="0.4"/>
<line x1="299.25" y1="157.80" x2="299.25" y2="159.00" stroke="#a0a0a0" stroke-width="0.4"/>
<text class="t" x="299.05" y="254.10" text-anchor="middle">MVO</text>
<line x1="321.62" y1="248.90" x2="321.62" y2="247.70" stroke="#a0a0a0" stroke-width="0.4"/>
<line x1="321.62" y1="157.80" x2="321.62" y2="159.00" stroke="#a0a0a0" stroke-width="0.4"/>
<text class="t" x="321.42" y="254.10" text-anchor="middle">SSA</text>
<line x1="198.60" y1="248.90" x2="199.80" y2="248.90" stroke="#a0a0a0" stroke-width="0.4"/>
<line x1="332.80" y1="248.90" x2="331.60" y2="248.90" stroke="#a0a0a0" stroke-width="0.4"/>
<text class="t" x="197.00" y="250.20" text-anchor="end">0</text>
<line x1="198.60" y1="235.89" x2="199.80" y2="235.89" stroke="#a0a0a0" stroke-width="0.4"/>
<line x1="332.80" y1="235.89" x2="331.60" y2="235.89" stroke="#a0a0a0" stroke-width="0.4"/>
<text class="t" x="197.00" y="237.19" text-anchor="end">2</text>
<line x1="198.60" y1="222.87" x2="199.80" y2="222.87" stroke="#a0a0a0" stroke-width="0.4"/>
<line x1="332.80" y1="222.87" x2="331.60" y2="222.87" stroke="#a0a0a0" stroke-width="0.4"/>
<text class="t" x="197.00" y="224.17" text-anchor="end">4</text>
<line x1="198.60" y1="209.86" x2="199.80" y2="209.86" stroke="#a0a0a0" stroke-width="0.4"/>
<line x1="332.80" y1="209.86" x2="331.60" y2="209.86" stroke="#a0a0a0" stroke-width="0.4"/>
<text class="t" x="197.00" y="211.16" text-anchor="end">6</text>
<line x1="198.60" y1="196.84" x2="199.80" y2="196.84" stroke="#a0a0a0" stroke-width="0.4"/>
<line x1="332.80" y1="196.84" x2="331.60" y2="196.84" stroke="#a0a0a0" stroke-width="0.4"/>
<text class="t" x="197.00" y="198.14" text-anchor="end">8</text>
<line x1="198.60" y1="183.83" x2="199.80" y2="183.83" stroke="#a0a0a0" stroke-width="0.4"/>
<line x1="332.80" y1="183.83" x2="331.60" y2="183.83" stroke="#a0a0a0" stroke-width="0.4"/>
<text class="t" x="197.00" y="185.13" text-anchor="end">10</text>
<line x1="198.60" y1="170.81" x2="199.80" y2="170.81" stroke="#a0a0a0" stroke-width="0.4"/>
<line x1="332.80" y1="170.81" x2="331.60" y2="170.81" stroke="#a0a0a0" stroke-width="0.4"/>
<text class="t" x="197.00" y="172.11" text-anchor="end">12</text>
<line x1="198.60" y1="157.80" x2="199.80" y2="157.80" stroke="#a0a0a0" stroke-width="0.4"/>
<line x1="332.80" y1="157.80" x2="331.60" y2="157.80" stroke="#a0a0a0" stroke-width="0.4"/>
<text class="t" x="197.00" y="159.10" text-anchor="end">14</text>
<text class="t" transform="translate(189.75,202.35) rotate(-90)" text-anchor="middle" textLength="20" lengthAdjust="spacingAndGlyphs">MAPE(%)</text>
<rect x="308.40" y="160.55" width="21.2" height="14.5" fill="#fff" stroke="#a5a5a5" stroke-width="0.4"/>
<rect x="309.30" y="161.95" width="10.9" height="2.9" fill="#2594a6" stroke="#1f7483" stroke-width="0.3"/>
<text class="lg" x="321.40" y="164.60">RF</text>
<rect x="309.30" y="166.75" width="10.9" height="2.9" fill="#f05c3c" stroke="#bd4a32" stroke-width="0.3"/>
<text class="lg" x="321.40" y="169.40">XGB</text>
<rect x="309.30" y="171.55" width="10.9" height="2.9" fill="#fbaa2e" stroke="#cc8823" stroke-width="0.3"/>
<text class="lg" x="321.40" y="174.20">LGB</text>
<text class="cap b" x="237.10" y="277.50" textLength="16.30" lengthAdjust="spacingAndGlyphs"><tspan font-size="15.4" dy="1">(</tspan><tspan dy="-1">e</tspan><tspan font-size="15.4" dy="1">)</tspan></text>
<text class="cap" x="256.30" y="277.50" textLength="31.30" lengthAdjust="spacingAndGlyphs"><tspan font-size="12.4" dy="0.45">5</tspan><tspan dy="-0.45">-step</tspan></text>
</g>
</svg></body></html>
